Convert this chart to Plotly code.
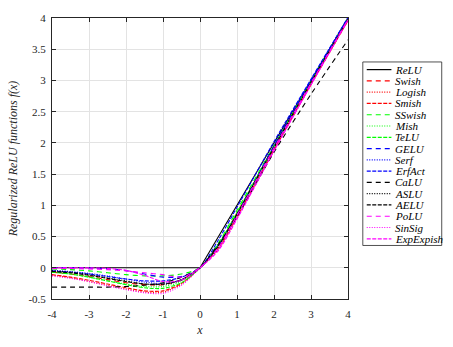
import plotly.graph_objects as go

x = [-4, -3.5, -3, -2.5, -2, -1.5, -1, -0.5, 0, 0.5, 1, 2, 3, 4]

relu      = [0, 0, 0, 0, 0, 0, 0, 0, 0, 0.5, 1, 2, 3, 4]
swish     = [-0.07, -0.10, -0.14, -0.19, -0.24, -0.27, -0.27, -0.19, 0, 0.36, 0.88, 1.93, 2.96, 3.98]
logish    = [-0.12, -0.16, -0.22, -0.28, -0.34, -0.39, -0.39, -0.26, 0, 0.30, 0.80, 1.88, 2.93, 3.96]
smish     = [-0.11, -0.15, -0.20, -0.26, -0.32, -0.37, -0.37, -0.25, 0, 0.32, 0.82, 1.89, 2.94, 3.96]
sswish    = [-0.02, -0.03, -0.05, -0.08, -0.11, -0.13, -0.13, -0.10, 0, 0.40, 0.92, 1.96, 2.98, 3.99]
mish      = [-0.07, -0.10, -0.15, -0.21, -0.26, -0.30, -0.30, -0.22, 0, 0.38, 0.87, 1.94, 2.99, 4.00]
telu      = [-0.07, -0.10, -0.15, -0.21, -0.27, -0.32, -0.33, -0.24, 0, 0.38, 0.88, 1.95, 2.99, 4.00]
gelu      = [0, -0.001, -0.004, -0.015, -0.045, -0.10, -0.15, -0.14, 0, 0.35, 0.84, 1.95, 3.00, 4.00]
serf      = [-0.04, -0.06, -0.09, -0.13, -0.18, -0.23, -0.25, -0.19, 0, 0.37, 0.86, 1.96, 3.00, 4.00]
erfact    = [-0.05, -0.07, -0.10, -0.14, -0.18, -0.21, -0.21, -0.15, 0, 0.45, 0.97, 2.02, 3.02, 4.01]
calu      = [-0.31, -0.31, -0.31, -0.31, -0.30, -0.28, -0.24, -0.15, 0, 0.38, 0.82, 1.85, 2.78, 3.65]
aslu      = [-0.05, -0.07, -0.11, -0.16, -0.21, -0.26, -0.27, -0.20, 0, 0.34, 0.85, 1.92, 2.96, 3.98]
aelu      = [-0.06, -0.08, -0.12, -0.17, -0.22, -0.26, -0.26, -0.19, 0, 0.35, 0.86, 1.93, 2.97, 3.98]
polu      = [-0.01, -0.01, -0.02, -0.03, -0.05, -0.08, -0.11, -0.15, 0, 0.33, 0.84, 1.92, 2.96, 3.98]
sinsig    = [-0.13, -0.17, -0.22, -0.29, -0.35, -0.40, -0.41, -0.28, 0, 0.30, 0.80, 1.88, 2.93, 3.96]
expexpish = [0, 0, -0.002, -0.01, -0.04, -0.12, -0.22, -0.20, 0, 0.28, 0.78, 1.87, 2.93, 3.97]

names = ["ReLU", "Swish", "Logish", "Smish", "SSwish", "Mish", "TeLU", "GELU",
         "Serf", "ErfAct", "CaLU", "ASLU", "AELU", "PoLU", "SinSig", "ExpExpish"]
series = [relu, swish, logish, smish, sswish, mish, telu, gelu,
          serf, erfact, calu, aslu, aelu, polu, sinsig, expexpish]
colors = ["#000000", "#ff0000", "#ff0000", "#ff0000", "#00ff00", "#00ff00", "#00ff00",
          "#0000ff", "#0000ff", "#0000ff", "#000000", "#000000", "#000000",
          "#ff00ff", "#ff00ff", "#ff00ff"]
DASH, DOT, DASHDOT = "5px,4px", "1px,1.5px", "4px,1.5px"
dashes = ["solid", DASH, DOT, DASHDOT, DASH, DOT, DASHDOT, DASH,
          DOT, DASHDOT, DASH, DOT, DASHDOT, DASH, DOT, DASHDOT]

x_ticks = [-4, -3, -2, -1, 0, 1, 2, 3, 4]
x_ticktext = ["-4", "-3", "-2", "-1", "0", "1", "2", "3", "4"]
y_ticks = [-0.5, 0, 0.5, 1, 1.5, 2, 2.5, 3, 3.5, 4]
y_ticktext = ["-0.5", "0", "0.5", "1", "1.5", "2", "2.5", "3", "3.5", "4"]

W, H = 453, 347
L, R, T, B = 48, 348, 14, 308
FONT = "Liberation Serif, 'Times New Roman', serif"

fig = go.Figure()
for i, (nm, ys) in enumerate(zip(names, series)):
    fig.add_trace(go.Scatter(
        x=x, y=ys, name=nm, mode="lines",
        line=dict(color=colors[i], dash=dashes[i], width=1.1,
                  shape="linear" if nm == "ReLU" else "spline", smoothing=0.8),
        showlegend=False))

def px2paper(px, py):
    return (px - L) / (R - L), (B - py) / (B - T)

shapes = []
annotations = []
bx0, by0 = px2paper(363, 60)
bx1, by1 = px2paper(443, 252)
shapes.append(dict(type="rect", xref="paper", yref="paper", x0=bx0, y0=by1, x1=bx1, y1=by0,
                   line=dict(color="#262626", width=0.8), fillcolor="white", layer="above"))
for i, nm in enumerate(names):
    cy = 68 + i * 11.8
    lx0, ly = px2paper(367, cy)
    lx1, _ = px2paper(392, cy)
    shapes.append(dict(type="line", xref="paper", yref="paper", x0=lx0, x1=lx1, y0=ly, y1=ly,
                       line=dict(color=colors[i], dash=dashes[i], width=1.2), layer="above"))
    tx, _ = px2paper(394, cy)
    annotations.append(dict(xref="paper", yref="paper", x=tx, y=ly, text="<i>%s</i>" % nm,
                            showarrow=False, xanchor="left", yanchor="middle",
                            font=dict(family=FONT, size=11, color="#000000")))

fig.update_layout(
    width=W, height=H,
    margin=dict(l=L, r=W - R, t=T, b=H - B),
    paper_bgcolor="white", plot_bgcolor="white",
    font=dict(family=FONT, size=11, color="#262626"),
    shapes=shapes, annotations=annotations,
    xaxis=dict(range=[-4, 4], tickvals=x_ticks, ticktext=x_ticktext,
               showgrid=True, gridcolor="#e3e3e3", gridwidth=1,
               zeroline=False, showline=True, linecolor="#262626", linewidth=1,
               mirror="ticks", ticks="inside", ticklen=4, tickcolor="#262626",
               ticklabelstandoff=5,
               title=dict(text="<i>x</i>", font=dict(family=FONT, size=12), standoff=6)),
    yaxis=dict(range=[-0.5, 4], tickvals=y_ticks, ticktext=y_ticktext,
               showgrid=True, gridcolor="#e3e3e3", gridwidth=1,
               zeroline=False, showline=True, linecolor="#262626", linewidth=1,
               mirror="ticks", ticks="inside", ticklen=4, tickcolor="#262626",
               ticklabelstandoff=3,
               title=dict(text="<i>Regularized ReLU functions f(x)</i>",
                          font=dict(family=FONT, size=12), standoff=8)),
)

fig.write_html("out.html")
